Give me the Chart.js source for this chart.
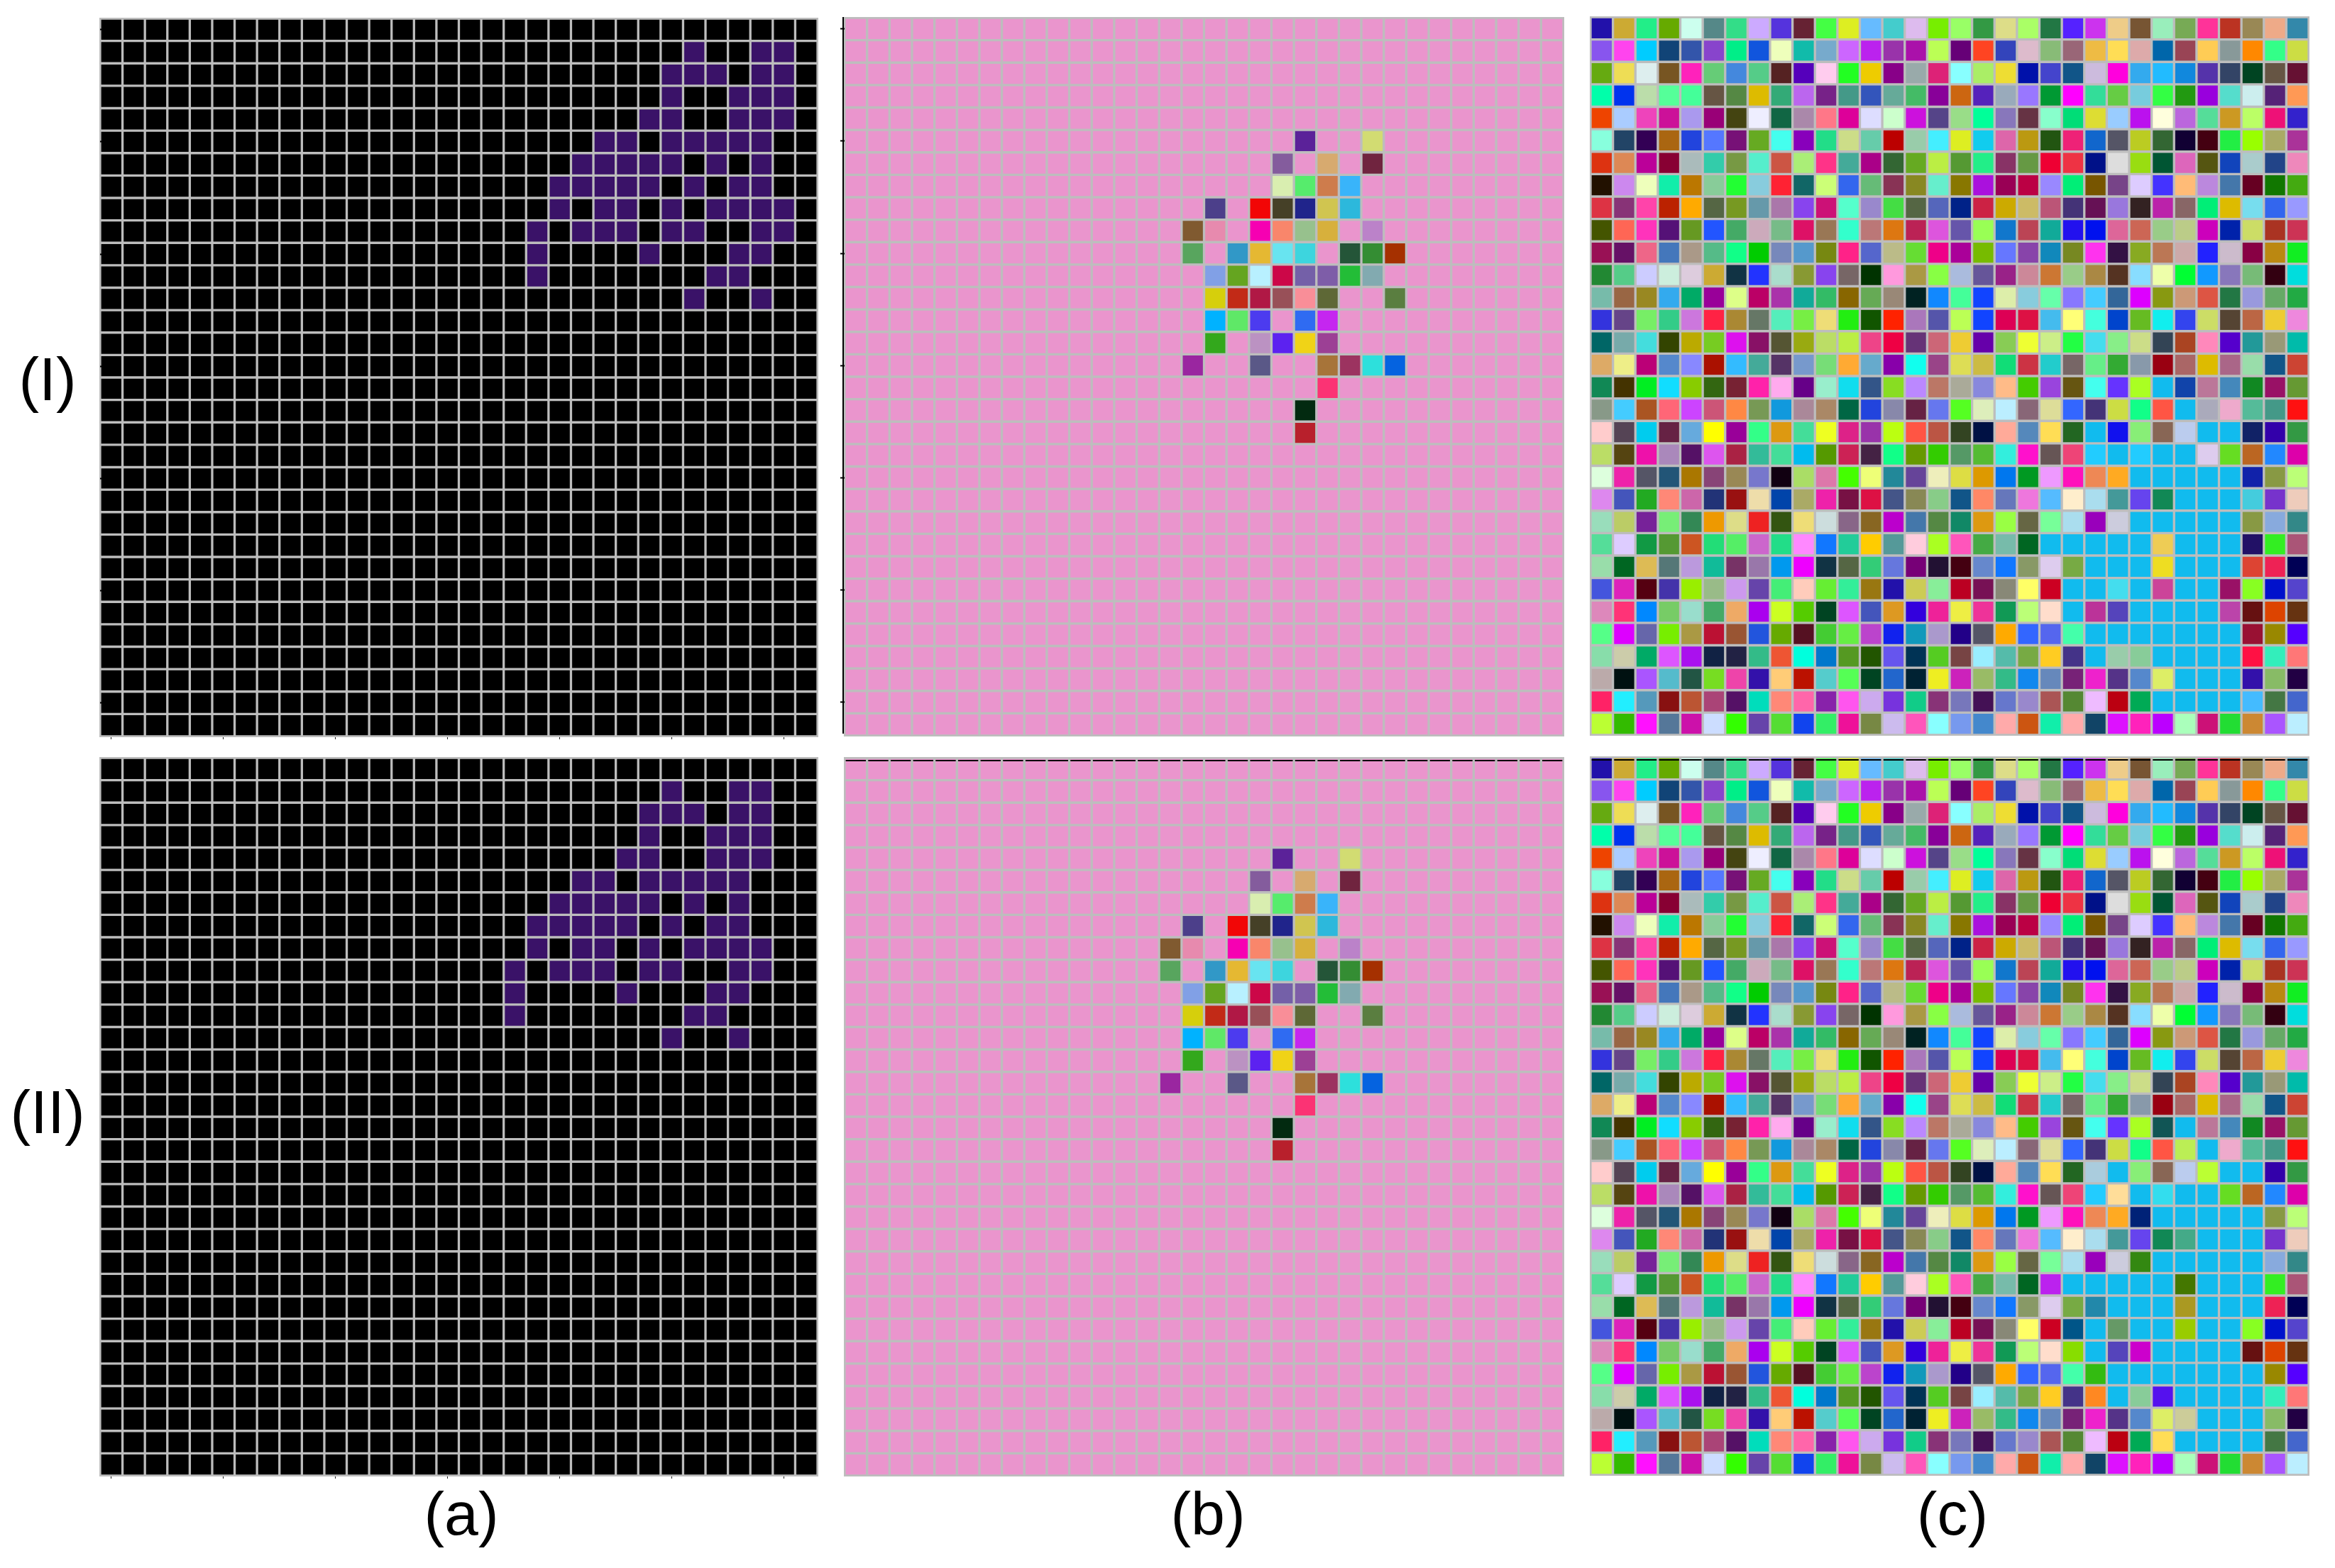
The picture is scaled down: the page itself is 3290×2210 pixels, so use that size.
<!DOCTYPE html>
<html>
<head>
<meta charset="utf-8">
<title>Grid panels</title>
<script src="https://cdn.jsdelivr.net/npm/chart.js@4"></script>
<style>
  html, body { margin: 0; background: #fff; }
  #page { position: relative; width: 3290px; height: 2210px; overflow: hidden; }
  canvas { position: absolute; }
  .rotulo { position: absolute; font: 86px "Liberation Sans", sans-serif; color: #000; transform: translate(-50%, -50%); white-space: nowrap; }
</style>
</head>
<body>
<div id="page"></div>
<script>
const colLabels = ['0','1','2','3','4','5','6','7','8','9','10','11','12','13','14','15','16','17','18','19','20','21','22','23','24','25','26','27','28','29','30','31'];
const tickRows = [0.5, 5.5, 10.5, 15.5, 20.5, 25.5, 30.5];
const unitHeight = [1,1,1,1,1,1,1,1,1,1,1,1,1,1,1,1,1,1,1,1,1,1,1,1,1,1,1,1,1,1,1,1];

const gridGrey = '#bdbdbd';
const black = '#000000';
const purple = '#3a1268';
const pink = '#ea95cd';

// coluna (a): colunas roxas em cada linha, de cima para baixo
const purpleCols = [
  [],
  [26,29,30],
  [25,26,27,29,30],
  [25,28,29,30],
  [24,25,28,29,30],
  [22,23,25,26,27,28,29],
  [21,22,23,24,25,27,29],
  [20,21,22,23,24,26,28,29],
  [20,22,23,25,27,28,29,30],
  [19,21,22,23,25,26,29,30],
  [19,24,28,29],
  [19,27,28],
  [26,29]
];

// coluna (b): [linha, coluna, cor]
const blobCells = [
  [5,20,'#5b2299'],[5,23,'#d2dc72'],
  [6,19,'#845c9d'],[6,21,'#d7aa6f'],[6,23,'#70243f'],
  [7,19,'#d9eeb0'],[7,20,'#56ec6c'],[7,21,'#ce7c4c'],[7,22,'#39b4fa'],
  [8,16,'#4c3f8a'],[8,18,'#f20606'],[8,19,'#454027'],[8,20,'#20248b'],[8,21,'#d0c550'],[8,22,'#2cb8dc'],
  [9,15,'#805a30'],[9,16,'#e78aae'],[9,18,'#f600b2'],[9,19,'#f9866b'],[9,20,'#97c18d'],[9,21,'#d7b03c'],[9,23,'#bb82c9'],
  [10,15,'#58a55e'],[10,17,'#3198c7'],[10,18,'#e5b832'],[10,19,'#68e4f0'],[10,20,'#3dd5de'],[10,22,'#245538'],[10,23,'#348d33'],[10,24,'#a53000'],
  [11,16,'#81a0e6'],[11,17,'#65a520'],[11,18,'#b8f0ff'],[11,19,'#cc0748'],[11,20,'#7460a8'],[11,21,'#7e5da8'],[11,22,'#23bd37'],[11,23,'#82aab0'],
  [12,16,'#d6cf0c'],[12,17,'#c22a17'],[12,18,'#b01845'],[12,19,'#985058'],[12,20,'#f98e98'],[12,21,'#5e6836'],[12,24,'#5a7e40'],
  [13,16,'#00b2ff'],[13,17,'#5fe867'],[13,18,'#4c3bef'],[13,20,'#2f6bf2'],[13,21,'#c526f0'],
  [14,16,'#33a81c'],[14,18,'#bb92c2'],[14,19,'#5c22f0'],[14,20,'#f0d317'],[14,21,'#9c4095'],
  [15,15,'#9a26a0'],[15,18,'#5a5887'],[15,21,'#a77439'],[15,22,'#9c3360'],[15,23,'#2de0dc'],[15,24,'#0563e0'],
  [16,21,'#fb3374'],
  [17,20,'#022a10'],
  [18,20,'#b8202c']
];

// coluna (c): cores, uma string por linha
const mosaicRows = [
  '21a ca3 2e8 6a0 cfe 588 3d8 caf 53d 623 4f4 de2 6bf 4cc dbe 7e0 9f6 394 dd8 af6 274 52f c3e ec8 753 9eb 7a5 f39 b32 985 ea8 38a',
  '85e f4e 0cf 147 35a 84c 0e8 15d efb 1ba 7ac c6f b2e 93a a1a bf5 607 f42 34b dbc 8b7 967 eb4 fd5 daa 06a 945 fc5 899 f80 3f8 cd4',
  '6a1 ed5 dee 752 f2b 6c7 48d 5c8 522 50b fce 2f2 ec0 808 9aa d27 8ff ae6 ed3 01a 44c 158 cbd f0d 3ae 2bf 18d 53a 346 042 654 613',
  '0fa 03e bda 5f9 4f9 654 584 db0 3a7 b6e 728 498 35b 6a9 4b6 809 c61 52b 9ab 97f 093 f0f 3d9 6c4 7cd 3f4 291 90d 5dc cee 527 f95',
  'e40 acf e4b c19 a9e 907 441 eef 164 a8a f78 d09 ddf cfc c1d 548 9d8 0f9 87b 634 8fc 0d7 dd3 9cf b1e ffd b6d 5d9 c92 bf6 e17 32c',
  '8fd 246 305 a61 24d 57f 717 6a2 4fe 80b 2d8 cd8 6ca b00 9ca 4ef de2 1ce d6a b91 251 e27 16c 556 bc2 363 103 401 2e4 9f0 aa6 a39',
  'd31 d85 b09 803 abb 3ca 794 5ec c54 ae7 f38 4a9 a08 363 6a2 be4 593 2e8 836 694 e03 e34 018 ddd 9d1 053 d6b 551 14b acc 248 e8b',
  '210 c8e efb 1ea b70 8c9 2f3 8cd f23 166 cf7 36e 6b7 835 882 6ec 870 a1d 905 b04 98f 0e7 750 748 dcf 43f fb7 b8d 47a 602 170 4a1',
  'd34 837 f4a b20 fa0 564 792 69a a7a 84e c17 5fc 98c 4d4 564 56b 028 c24 ca0 cb6 b57 437 615 97d 322 b2a 866 0e7 db0 7de 36e 99f',
  '450 f65 f3b 517 692 25f 4a6 cab 7b8 d16 975 3fc b77 d71 b25 d5d 65a 9f5 17c b45 1a9 21e 01e d69 c65 9c8 bc8 c0b 02a cd6 a32 c35',
  '915 616 e68 47b a98 5b8 1f8 0c0 78b 59c 781 f28 56c bb8 6d3 e08 a09 7b0 67f 84a 18b 782 f3e 314 8a2 b75 caa 22f cbc 804 b81 1e2',
  '283 5c8 ccf ced dcd ca3 134 23f adc 893 84e 766 030 f9d a94 8f4 abd 659 928 c89 c73 9c8 a84 532 8df efa 0f3 19f 87b 7b7 301 0dd',
  '7ba 964 982 3ae 0a6 909 df8 b06 a3a 1a9 3b6 860 6a5 987 022 18f 4f9 14f dea 8cd 6fa 87f 4cf 369 d0f 891 c97 d54 274 99d 6a6 2a4',
  '33d 648 7e6 3c8 c7d f24 a83 676 5eb 7e4 ed7 2e1 150 f20 a7b 55a bf5 14f d05 d14 4be ff7 4fd 04c 6b2 1ee 34e cd6 543 b64 ec3 e8d',
  '066 7aa 4dd 340 ba0 7c2 d1e 816 553 9a1 bd6 be4 e48 e04 637 c67 ec3 60a 8c5 ef3 ce8 2f4 4de 8e8 cd8 345 a42 f8b 50c 299 997 0ba',
  'da6 ee8 b07 58c 88f a10 3bf 4a9 536 79c 7d7 fa3 6ac 80a 1fe 948 dd5 cb4 1d7 c34 2cc 766 6e8 3a3 89a 901 a66 db0 a68 9da 158 c43',
  '185 430 0e2 1df 8c0 361 723 f2a fae 608 9ec 1de 358 8d2 b8f b76 aa9 88d fb8 4c0 94d 651 4fe 63f af2 1be 14a b79 48b 182 916 693',
  '898 4cf a52 f67 c4f c57 f84 795 19d a89 a86 064 24d 88a 624 67e 5f2 deb bef 867 dd9 36f 437 cd4 1f8 f54 1be aab eac 5b9 498 f11',
  'fcc 545 0ce 624 6ad ff0 909 3f8 d91 4d9 ef2 d28 93a bf1 f54 b54 342 014 fa9 58b fd5 262 1be 11e 8e7 865 bce 1be 1be 126 30a 394',
  'bd6 541 e1a a8b 516 d5e a24 3b9 4d9 0be 590 c25 424 1f8 690 3c0 596 5b3 3ed f1c 655 e47 2cf 1be 2cf 1be 1be dce 6d2 b62 28f d0a',
  'dfd e2a 556 257 a70 847 985 77c 101 ad6 d7a 4f0 ef7 289 649 eeb dd4 d90 07e 092 e9f f1b e85 fa2 1be 1be 1be 1be 1be 12a 894 bf7',
  'd8e 45b 2a2 f87 c6a 237 911 eda 04a aa6 e2a 714 d14 458 885 8c8 158 f86 67b e7d 5bf fec ade 499 64e 185 1be 1be 1be 4cd 73c ecb',
  '9db bc6 729 7e7 385 e90 dd8 e22 351 ed7 cdd 868 862 b0c 47a 584 186 d91 9f4 664 7f9 ade 90b ccd 1be 1be 1be 1be 1be 894 8ad 388',
  '5d9 dcf 194 593 c52 2d7 5e6 c6c 2d8 f8f 17f 2c9 fc0 599 fcd af2 f5b 4a4 7ba 062 1be 1be 1be 1be 1be ec5 1be 1be 1be 216 3e2 a57',
  '9da 062 db5 577 b9d 1b9 736 97a 09e e0f 134 564 3c7 67d 707 213 401 68c 17f 896 dce 7a4 1be 1be 1be ed2 1be 1be 1be d43 e25 005',
  '45d d2b 501 43a 9e0 9b8 c9e 64a 4e7 fcb 6e3 3e9 971 21a cc5 8e9 b02 715 887 ff6 c02 1be 1be 4de 1be c49 1be 1be 916 8f2 01c 54c',
  'd8b f37 08f 7c6 9dc 4a6 ea6 a0e cf2 5c0 042 d5f 45b d92 30d e29 ee4 e39 195 bf7 fdc 1be b39 54b 1be 1be 1be 1be b4a 611 d40 631',
  '5f8 d0f 66a 7e0 a94 b13 953 25d 6a0 512 4c3 6e4 b4c 12e 19b a9c 208 556 fa0 36f 56e 4fa 1be 1be 1be 1be 1be 1be 1be 913 980 50f',
  '8da cca 0a6 d5f a1e 124 224 3b8 e53 0fd 07c 592 250 65e 035 5c2 744 9ef 5ba 7a4 fc2 438 1be 9ca 8c9 1be 1be 1be 1be f14 3eb f77',
  'baa 011 a5f 5bc 254 7d2 e4a 31a fc7 b10 5cc 5f5 042 26c 023 ee2 c2b 9b6 3b8 18e 68b 727 e2c 538 58c de6 1be 1be 1be 31a 8b6 204',
  'f26 2ef 59b 811 b53 a47 516 0db f87 f6a 82a f5e cae 73d 1c8 837 77b 415 67c 98c a55 583 ebf b01 0a5 1be 1be 1be 1be 4bf 474 46c',
  'bf3 3b0 f1f 579 c1a cdf 3f0 64a 5d3 14e 3e6 e19 784 cbe f5b 8ff 79e 48c faa c51 1ea faa 146 d1f f2b b0f afb c17 2d3 c83 a5f bef'
];

// linha (II) da coluna (c): celulas que mudam em relacao a (I): [linha, coluna, cor]
const mosaicChanges = [
  [16,25,'155'],[16,26,'1be'],
  [17,26,'be5'],[17,27,'1be'],
  [18,22,'acd'],[18,23,'1be'],[18,27,'bf3'],[18,29,'1be'],
  [19,23,'fd9'],[19,24,'1be'],[19,25,'3de'],[19,27,'1be'],
  [20,24,'027'],[20,29,'1be'],
  [21,26,'4a8'],[21,29,'1be'],
  [22,24,'381'],[22,29,'1be'],
  [23,20,'b2e'],[23,25,'1be'],[23,26,'470'],[23,29,'1be'],
  [24,22,'28a'],[24,25,'1be'],[24,26,'a92'],[24,29,'1be'],
  [25,21,'058'],[25,23,'696'],[25,25,'1be'],[25,26,'9c0'],[25,28,'1be'],
  [26,21,'8d0'],[26,22,'1be'],[26,24,'c0c'],[26,28,'1be'],
  [27,22,'3b1'],[27,29,'1be'],
  [28,22,'f82'],[28,23,'1be'],[28,25,'51e'],[28,29,'1be'],
  [29,26,'cc9'],[29,29,'1be'],
  [30,25,'fd5'],[30,29,'1be']
];

const panelLabels = [
  { text: '(I)', x: 67, y: 534 },
  { text: '(II)', x: 67, y: 1567 },
  { text: '(a)', x: 650, y: 2133 },
  { text: '(b)', x: 1702, y: 2133 },
  { text: '(c)', x: 2751, y: 2133 }
];

const page = document.getElementById('page');
const MARGEM = 12;

function emptyGrid(color) {
  return colLabels.map(() => colLabels.map(() => color));
}

function gridA(shift) {
  const g = emptyGrid(black);
  purpleCols.forEach((cols, r) => cols.forEach(c => { g[r][c + shift] = purple; }));
  return g;
}

function gridB(rowShift, colShift) {
  const g = emptyGrid(pink);
  blobCells.forEach(([r, c, color]) => { g[r + rowShift][c + colShift] = color; });
  return g;
}

function gridC(changes) {
  const g = mosaicRows.map(row => row.split(' ').map(h => '#' + h));
  changes.forEach(([r, c, h]) => { g[r][c] = '#' + h; });
  return g;
}

function desenhaPainel(box, grid, extras) {
  const w = box.right - box.left - 2;
  const h = box.bottom - box.top - 2;
  const canvas = document.createElement('canvas');
  canvas.width = w + MARGEM * 2;
  canvas.height = h + MARGEM * 2;
  canvas.style.left = (box.left + 1 - MARGEM) + 'px';
  canvas.style.top = (box.top + 1 - MARGEM) + 'px';
  canvas.style.width = canvas.width + 'px';
  canvas.style.height = canvas.height + 'px';
  page.appendChild(canvas);

  const moldura = {
    id: 'moldura',
    beforeDatasetsDraw(chart) {
      const a = chart.chartArea;
      chart.ctx.save();
      chart.ctx.fillStyle = gridGrey;
      chart.ctx.fillRect(a.left - 1, a.top - 1, a.right - a.left + 2, a.bottom - a.top + 2);
      chart.ctx.restore();
    },
    afterDatasetsDraw(chart) {
      const ctx = chart.ctx;
      const a = chart.chartArea;
      ctx.save();
      ctx.fillStyle = black;
      if (extras.topStrip) {
        // traco preto do eixo de cima, por baixo da grade
        const half = (chart.scales.x.getPixelForValue(1) - chart.scales.x.getPixelForValue(0)) / 2 - 1.65;
        colLabels.forEach((label, i) => {
          const cx = chart.scales.x.getPixelForValue(i);
          ctx.fillRect(cx - half, chart.scales.y.getPixelForValue(0) + 3, half * 2, 2);
        });
      }
      if (extras.leftAxis) {
        ctx.fillRect(a.left - 3, a.top - 1, 2, a.bottom - a.top - 2);
      }
      ctx.restore();
    }
  };

  new Chart(canvas, {
    type: 'bar',
    data: {
      labels: colLabels,
      datasets: grid.map(rowColors => ({
        data: unitHeight,
        backgroundColor: rowColors,
        borderColor: gridGrey,
        borderWidth: 1.65,
        borderSkipped: false,
        inflateAmount: 0,
        barPercentage: 1,
        categoryPercentage: 1
      }))
    },
    options: {
      responsive: false,
      animation: false,
      events: [],
      layout: { padding: { top: MARGEM, right: MARGEM } },
      plugins: { legend: { display: false }, tooltip: { enabled: false } },
      scales: {
        x: {
          stacked: true,
          afterFit: s => { s.height = MARGEM; },
          ticks: { display: false, autoSkip: false },
          border: { display: false },
          grid: {
            offset: false,
            drawOnChartArea: false,
            drawTicks: !!extras.bottomTicks,
            tickLength: 4,
            tickWidth: 1,
            tickColor: ctx => (ctx.index % 5 === 0 ? '#222' : 'rgba(0,0,0,0)')
          }
        },
        y: {
          stacked: true,
          reverse: true,
          min: 0,
          max: 32,
          afterFit: s => { s.width = MARGEM; },
          afterBuildTicks: s => { s.ticks = tickRows.map(v => ({ value: v })); },
          ticks: { display: false },
          border: { display: false },
          grid: {
            z: 1,
            drawOnChartArea: false,
            drawTicks: !!extras.leftTicks,
            tickLength: extras.leftTicks || 0,
            tickWidth: 2,
            tickColor: black
          }
        }
      }
    },
    plugins: [moldura]
  });
}

desenhaPainel({ left: 140, top: 25, right: 1153, bottom: 1039 }, gridA(0), { bottomTicks: true, leftTicks: -3 });
desenhaPainel({ left: 1189, top: 24, right: 2204, bottom: 1038 }, gridB(0, 0), { leftAxis: true, leftTicks: 6 });
desenhaPainel({ left: 2240, top: 23, right: 3254, bottom: 1037 }, gridC([]), {});
desenhaPainel({ left: 140, top: 1067, right: 1153, bottom: 2081 }, gridA(-1), { bottomTicks: true });
desenhaPainel({ left: 1189, top: 1067, right: 2204, bottom: 2081 }, gridB(-1, -1), { topStrip: true });
desenhaPainel({ left: 2240, top: 1066, right: 3254, bottom: 2080 }, gridC(mosaicChanges), { topStrip: true });

panelLabels.forEach(l => {
  const d = document.createElement('div');
  d.className = 'rotulo';
  d.textContent = l.text;
  d.style.left = l.x + 'px';
  d.style.top = l.y + 'px';
  page.appendChild(d);
});
</script>
</body>
</html>
